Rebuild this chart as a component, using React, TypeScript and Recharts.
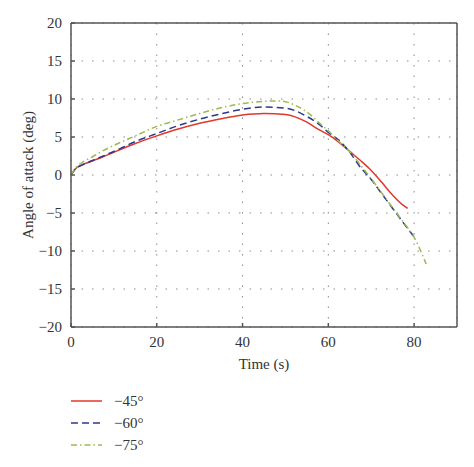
import React from 'react';
import { LineChart, Line, XAxis, YAxis, CartesianGrid, Legend, Label } from 'recharts';

const time45 = [0, 1, 2.5, 5, 7.5, 10, 15, 20, 25, 30, 35, 40, 45, 50, 55, 58, 60, 62.5, 65, 67.5, 70, 72.5, 75, 77.5, 78.5];
const aoa45 = [0, 0.8, 1.3, 1.85, 2.4, 3.0, 4.15, 5.15, 6.05, 6.8, 7.4, 7.9, 8.1, 7.95, 6.95, 5.9, 5.3, 4.3, 3.1, 1.9, 0.6, -1.0, -2.65, -4.0, -4.4];

const time60 = [0, 1, 2.5, 5, 7.5, 10, 15, 20, 25, 30, 35, 40, 45, 50, 55, 58, 60, 62.5, 65, 67.5, 70, 72.5, 75, 77.5, 80.2];
const aoa60 = [0, 0.8, 1.3, 1.9, 2.5, 3.1, 4.4, 5.45, 6.5, 7.35, 8.05, 8.65, 8.95, 8.8, 7.7, 6.6, 5.6, 4.55, 3.0, 1.0, -0.6, -2.5, -4.4, -6.3, -8.3];

const time75 = [0, 1, 2.5, 5, 7.5, 10, 15, 20, 25, 30, 35, 40, 45, 48, 50, 52.5, 55, 58, 60, 62.5, 65, 67.5, 70, 72.5, 75, 77.5, 80, 82.8];
const aoa75 = [0, 0.9, 1.6, 2.4, 3.2, 3.9, 5.15, 6.4, 7.25, 8.1, 8.85, 9.4, 9.7, 9.75, 9.65, 9.1, 8.3, 6.8, 5.8, 4.4, 3.1, 1.3, -0.5, -2.4, -4.3, -6.2, -8.2, -11.7];

const xTicks = [0, 20, 40, 60, 80];
const yTicks = [-20, -15, -10, -5, 0, 5, 10, 15, 20];

const seriesNames = ['\u221245\u00b0', '\u221260\u00b0', '\u221275\u00b0'];
const seriesColors = ['#e2372c', '#2c3a8e', '#9dbb52'];
const seriesDash = ['', '7 4', '6 3 1.5 3'];

const toData = (ts: number[], vs: number[]) => ts.map((t, i) => ({ t, v: vs[i] }));
const data45 = toData(time45, aoa45);
const data60 = toData(time60, aoa60);
const data75 = toData(time75, aoa75);

const FONT = "'Liberation Serif', 'Times New Roman', serif";
const AXIS = '#555';
const TEXT = '#333';

const fmt = (v: number) => String(v).replace('-', '\u2212');

const XTick = (props: any) => {
  const { x, y, payload } = props;
  return (
    <text x={x} y={y + 10} textAnchor="middle" fontFamily={FONT} fontSize={15} fill={TEXT}>
      {fmt(payload.value)}
    </text>
  );
};

const YTick = (props: any) => {
  const { x, y, payload } = props;
  return (
    <text x={x} y={y + 5} textAnchor="end" fontFamily={FONT} fontSize={15} fill={TEXT}>
      {fmt(payload.value)}
    </text>
  );
};

const LegendContent = () => (
  <svg width={200} height={70}>
    {seriesNames.map((n, i) => (
      <g key={n}>
        <line x1={0} x2={31} y1={10 + i * 22} y2={10 + i * 22} stroke={seriesColors[i]} strokeWidth={1.5} strokeDasharray={seriesDash[i] || undefined} />
        <text x={43} y={15 + i * 22} fontFamily={FONT} fontSize={15} fill={TEXT}>{n}</text>
      </g>
    ))}
  </svg>
);

export default function App() {
  return (
    <LineChart width={458} height={451} margin={{ top: 0, right: 0, bottom: 82, left: 0 }} style={{ fontFamily: FONT }}>
      <CartesianGrid stroke="#8a8a8a" strokeDasharray="1.5 9" strokeWidth={1} />
      <XAxis
        dataKey="t"
        type="number"
        domain={[0, 90]}
        ticks={xTicks}
        allowDuplicatedCategory={false}
        height={50}
        tickSize={-4}
        tickMargin={14}
        tick={<XTick />}
        stroke={AXIS}
        strokeWidth={1.5}
      >
        <Label
          content={({ viewBox }: any) => (
            <text x={viewBox.x + viewBox.width / 2} y={361} textAnchor="middle" fontFamily={FONT} fontSize={15} fill={TEXT}>
              Time (s)
            </text>
          )}
        />
      </XAxis>
      <XAxis xAxisId="top" orientation="top" type="number" domain={[0, 90]} ticks={xTicks} height={15} tickSize={-4} tick={false} stroke={AXIS} strokeWidth={1.5} />
      <YAxis
        type="number"
        domain={[-20, 20]}
        ticks={yTicks}
        width={63}
        tickSize={-4}
        tickMargin={13}
        tick={<YTick />}
        stroke={AXIS}
        strokeWidth={1.5}
      >
        <Label
          content={({ viewBox }: any) => {
            const cy = viewBox.y + viewBox.height / 2;
            return (
              <text x={20} y={cy} transform={`rotate(-90, 20, ${cy})`} textAnchor="middle" dominantBaseline="central" fontFamily={FONT} fontSize={15} fill={TEXT}>
                Angle of attack (deg)
              </text>
            );
          }}
        />
      </YAxis>
      <YAxis yAxisId="right" orientation="right" type="number" domain={[-20, 20]} ticks={yTicks} width={9} tickSize={-4} tick={false} stroke={AXIS} strokeWidth={1.5} />
      <Line data={data45} dataKey="v" name={seriesNames[0]} type="monotone" stroke={seriesColors[0]} strokeWidth={1.5} dot={false} isAnimationActive={false} />
      <Line data={data60} dataKey="v" name={seriesNames[1]} type="monotone" stroke={seriesColors[1]} strokeWidth={1.5} strokeDasharray={seriesDash[1]} dot={false} isAnimationActive={false} />
      <Line data={data75} dataKey="v" name={seriesNames[2]} type="monotone" stroke={seriesColors[2]} strokeWidth={1.5} strokeDasharray={seriesDash[2]} dot={false} isAnimationActive={false} />
      <Legend
        layout="horizontal"
        verticalAlign="middle"
        align="center"
        content={() => <LegendContent />}
        wrapperStyle={{ position: 'absolute', left: 63, top: 383, width: 200, height: 70 }}
      />
    </LineChart>
  );
}
